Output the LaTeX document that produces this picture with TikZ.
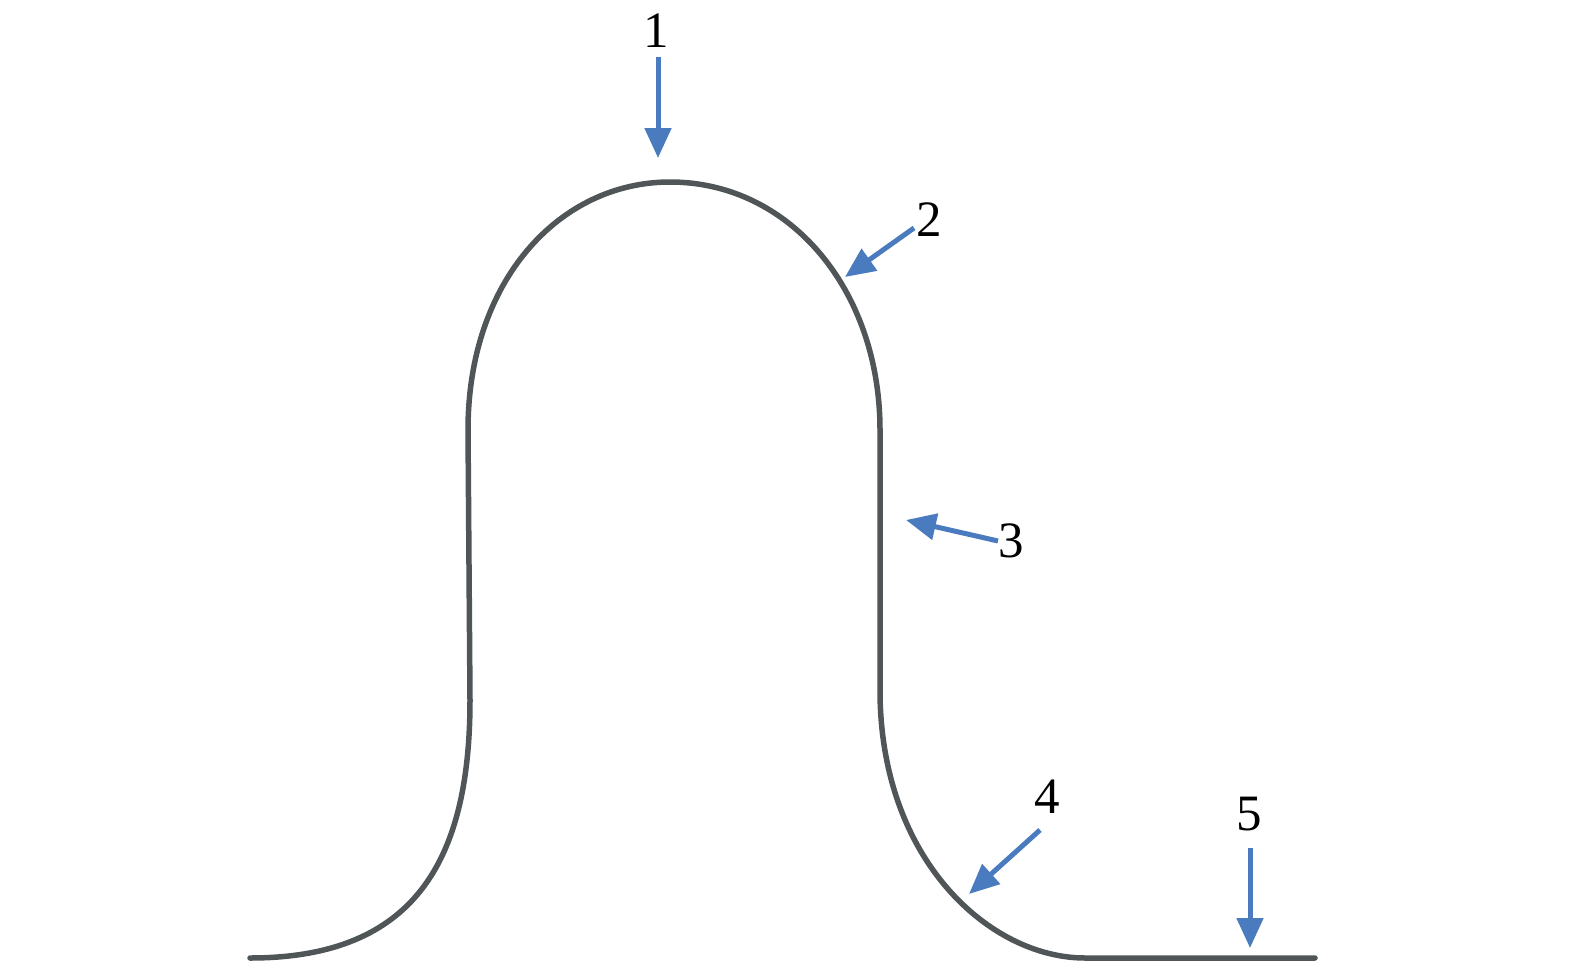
\documentclass[tikz,border=0pt]{standalone}
\usepackage{fontspec}
\setmainfont{Liberation Serif}
\usetikzlibrary{arrows.meta}
\definecolor{curvegray}{HTML}{505558}
\definecolor{arrowblue}{HTML}{4A7BBF}
\begin{document}
\begin{tikzpicture}[x=1pt,y=-1pt,
  profile/.style={draw=curvegray,line width=5.5pt,line cap=round},
  pointer/.style={draw=arrowblue,line width=5pt,-{Triangle[length=30pt,width=26pt]}},
  lbl/.style={inner sep=0pt,font=\fontsize{51}{51}\selectfont}]
\useasboundingbox (0,0) rectangle (1575,969);
% profile
\draw[profile] (250,958) .. controls (415,958) and (470,860) .. (470,700)
  -- (468,430) .. controls (468,280) and (560,182) .. (670,182)
  .. controls (790,182) and (880,290) .. (880,430)
  -- (880,690) .. controls (880,860) and (990,958) .. (1085,958)
  -- (1315,958);
% labels
\node[lbl] (l1) at (656,31) {1};
\node[lbl] (l2) at (929,220) {2};
\node[lbl] (l3) at (1011,541) {3};
\node[lbl] (l4) at (1047,797) {4};
\node[lbl] (l5) at (1249,814) {5};
% arrow coordinates
\coordinate (s1) at (658,57);  \coordinate (t1) at (658,158);
\coordinate (s2) at (914,228); \coordinate (t2) at (845,277);
\coordinate (s3) at (998,541); \coordinate (t3) at (906,520);
\coordinate (s4) at (1040,830);\coordinate (t4) at (969,894);
\coordinate (s5) at (1250,848);\coordinate (t5) at (1250,948);
\draw[pointer] (s1) -- (t1);
\draw[pointer] (s2) -- (t2);
\draw[pointer] (s3) -- (t3);
\draw[pointer] (s4) -- (t4);
\draw[pointer] (s5) -- (t5);
\end{tikzpicture}
\end{document}
